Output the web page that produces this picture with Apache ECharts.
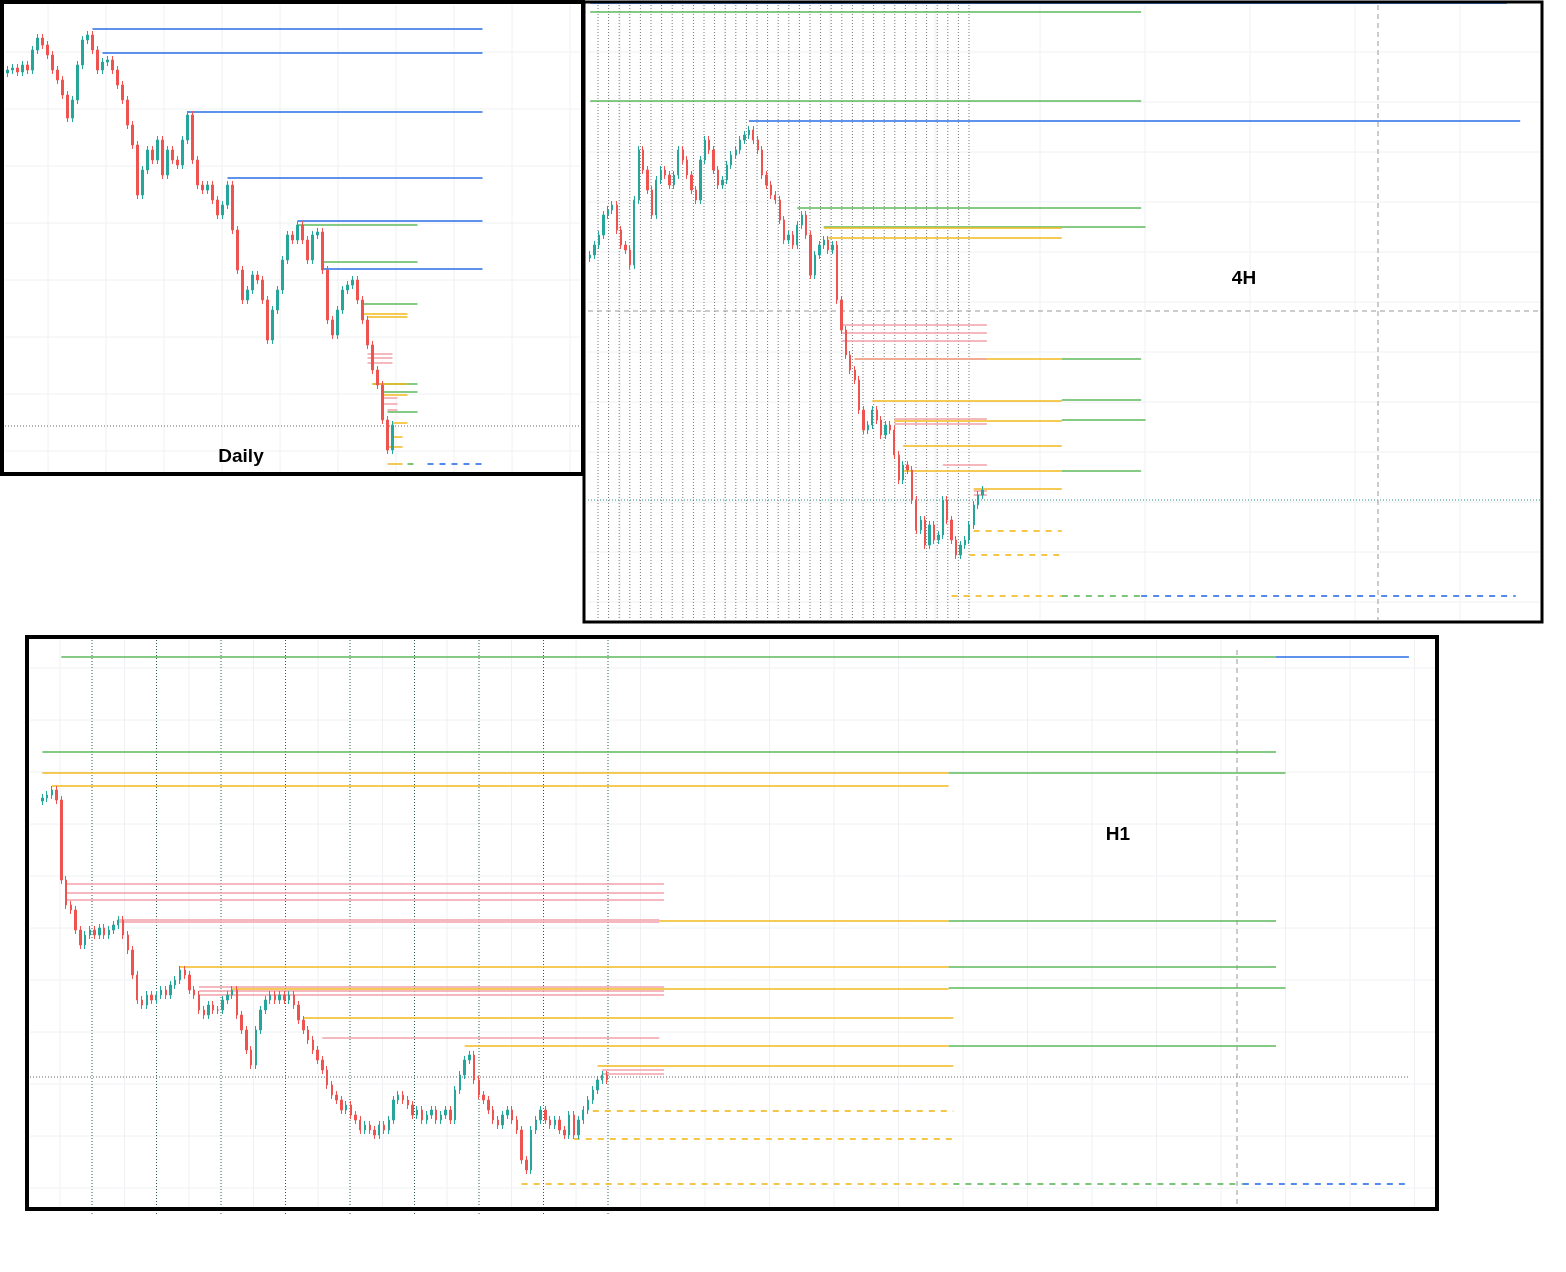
<!DOCTYPE html>
<html><head><meta charset="utf-8">
<script src="https://cdn.jsdelivr.net/npm/echarts@6/dist/echarts.min.js"></script>
<style>html,body{margin:0;background:#fff}#c{width:1566px;height:1272px}</style></head>
<body><div id="c"></div>
<script>
// Closing levels per candle (chart units: vertical chart position scale, higher value = lower price)
const dailyCloses=[70,68,72,65,70,50,38,45,55,70,80,95,118,100,65,40,35,50,70,62,60,70,85,100,125,145,195,170,150,160,140,175,150,160,165,140,115,160,185,190,185,200,215,205,185,230,270,300,290,275,280,300,340,310,290,260,235,240,225,240,260,235,232,270,320,335,310,290,285,280,300,320,345,370,385,420,450,425];
const h4Closes=[255,245,235,215,210,205,230,245,250,265,200,150,170,190,215,180,170,175,185,175,150,160,175,190,200,160,140,150,170,185,180,165,155,150,140,135,130,140,150,175,185,195,200,220,240,235,245,225,215,235,275,255,245,240,250,245,300,330,355,370,380,410,430,425,410,420,435,425,430,455,480,465,470,500,530,520,545,525,540,535,500,520,540,555,545,540,525,505,495,490];
const h1Closes=[798,795,790,800,880,905,910,930,945,935,930,935,928,935,930,925,920,935,950,975,1000,1005,995,1000,995,990,995,985,980,970,975,990,995,1010,1015,1005,1010,1010,1000,995,990,1015,1030,1050,1065,1030,1010,1000,995,1000,995,1000,995,1005,1020,1030,1040,1050,1060,1070,1085,1095,1100,1110,1105,1115,1120,1130,1125,1130,1135,1125,1130,1120,1100,1095,1100,1105,1115,1110,1120,1115,1110,1120,1115,1110,1120,1090,1075,1060,1055,1080,1095,1100,1110,1120,1125,1115,1110,1120,1130,1160,1170,1130,1120,1110,1120,1125,1120,1130,1135,1115,1135,1120,1110,1100,1090,1080,1075,1080];
// levels: [level, startBar, endBar, colour, dashed]
const dailyLevels=[
[29,17,95,'b',0],[53,19,95,'b',0],[112,36,95,'b',0],[178,44,95,'b',0],[221,58,95,'b',0],[269,63,95,'b',0],
[225,58,82,'g',0],[262,63,82,'g',0],[304,71,82,'g',0],[384,73,82,'g',0],[392,75,82,'g',0],[412,76,82,'g',0],
[314,71,80,'o',0],[317,72,80,'o',0],[384,73,80,'o',0],[395,75,80,'o',0],[423,77,80,'o',0],[437,77,79,'o',0],[447,76,79,'o',0],[464,76,79,'o',0],
[354,72,77,'p',0],[358,72,77,'p',0],[363,72,77,'p',0],[398,75,78,'p',0],[404,75,78,'p',0],[410,76,78,'p',0],
[464,80,82,'g',1],[464,84,95,'b',1]];
const h4Levels=[
[3,0,208,'b',0],[12,0,125,'g',0],[101,0,125,'g',0],[121,36,211,'b',0],[208,47,125,'g',0],[227,53,126,'g',0],
[228,53,107,'o',0],[238,54,107,'o',0],[325,57,90,'p',0],[333,57,90,'p',0],[341,57,90,'p',0],[359,60,107,'o',0],[359,60,90,'p',0],[359,107,125,'g',0],
[401,64,107,'o',0],[400,107,125,'g',0],[419,69,90,'p',0],[424,69,90,'p',0],[421,69,107,'o',0],[420,107,126,'g',0],[446,71,107,'o',0],
[465,80,90,'p',0],[471,71,107,'o',0],[471,107,125,'g',0],[489,87,107,'o',0],[491,87,90,'p',0],[495,87,90,'p',0],
[531,87,107,'o',1],[555,86,107,'o',1],[596,82,107,'o',1],[596,107,125,'g',1],[596,125,210,'b',1]];
const h1Levels=[
[657,4,260,'g',0],[657,260,288,'b',0],[752,0,260,'g',0],[773,0,191,'o',0],[773,191,262,'g',0],[786,2,191,'o',0],
[884,5,131,'p',0],[893,5,131,'p',0],[900,5,131,'p',0],[920,16,130,'p',0],[922,16,130,'p',0],[921,130,191,'o',0],[921,191,260,'g',0],
[967,29,191,'o',0],[967,191,260,'g',0],[987,33,131,'p',0],[991,33,131,'p',0],[995,33,131,'p',0],[989,40,191,'o',0],[988,191,262,'g',0],
[1018,55,192,'o',0],[1038,59,130,'p',0],[1046,89,191,'o',0],[1046,191,260,'g',0],[1066,117,192,'o',0],[1070,118,131,'p',0],[1074,118,131,'p',0],
[1111,116,192,'o',1],[1139,112,192,'o',1],[1184,101,192,'o',1],[1184,192,253,'g',1],[1184,253,288,'b',1]];
const COL={b:'#2a6ee6',g:'#5cb85c',o:'#f2b81c',p:'#f2a0a8'};

const panels=[
 {closes:dailyCloses,levels:dailyLevels,left:5,width:575,top:5,bottom:472,n:115},
 {closes:h4Closes,levels:h4Levels,left:588,width:952,top:1,bottom:620,n:216},
 {closes:h1Closes,levels:h1Levels,left:40,width:1395,top:640,bottom:1208,n:294}
];
const grid=[],xAxis=[],yAxis=[],series=[];
panels.forEach((p,k)=>{
 grid.push({left:p.left,top:p.top,width:p.width,height:p.bottom-p.top});
 xAxis.push({type:'category',gridIndex:k,data:Array.from({length:p.n},(_,i)=>i),show:false,boundaryGap:true});
 yAxis.push({type:'value',gridIndex:k,min:p.top,max:p.bottom,inverse:true,show:false});
 const cd=p.closes.map((c,i)=>{const o=i?p.closes[i-1]:c+3;return [o,c,Math.min(o,c)-4,Math.max(o,c)+4];});
 series.push({type:'candlestick',xAxisIndex:k,yAxisIndex:k,data:cd,barWidth:'40%',z:3,
  itemStyle:{color:'#ef5350',color0:'#26a69a',borderColor:'#ef5350',borderColor0:'#26a69a',borderWidth:1}});
 p.levels.forEach(l=>series.push({type:'line',xAxisIndex:k,yAxisIndex:k,symbol:'none',silent:true,z:2,
  data:[[l[1],l[0]],[l[2],l[0]]],lineStyle:{color:COL[l[3]],width:l[3]==='p'?1.5:1.6,type:l[4]?[6,6]:'solid'}}));
});
const g=[];
function ln(x1,y1,x2,y2,c,dash,w){g.push({type:'line',shape:{x1,y1,x2,y2},style:{stroke:c,lineDash:dash,lineWidth:w||1},z:-1});}
for(let x=48;x<580;x+=58)ln(x,5,x,472,'#eef0f3');
for(let y=52;y<472;y+=57)ln(5,y,580,y,'#eef0f3');
for(let x=620;x<1540;x+=105)ln(x,5,x,620,'#eef0f3');
for(let y=52;y<620;y+=50)ln(588,y,1540,y,'#eef0f3');
for(let x=60;x<1430;x+=64.5)ln(x,640,x,1208,'#eef0f3');
for(let y=668;y<1208;y+=52)ln(30,y,1435,y,'#eef0f3');
for(let x=598;x<=977;x+=10.6)ln(x,5,x,620,'#777',[1,2]);
for(let x=92;x<=612;x+=64.5)ln(x,640,x,1215,'#2c5e4a',[1,2]);
ln(5,426,580,426,'#666',[1,2]);ln(588,500,1540,500,'#2a8f86',[1,2]);ln(30,1077,1408,1077,'#666',[1,2]);
ln(588,311,1540,311,'#999',[5,4]);ln(1378,5,1378,620,'#999',[5,4]);ln(1237,650,1237,1208,'#999',[5,4]);
const option={animation:false,grid,xAxis,yAxis,series,graphic:[...g,
 {type:'rect',shape:{x:2,y:2,width:581,height:472},style:{fill:'none',stroke:'#000',lineWidth:4},z:10},
 {type:'rect',shape:{x:584,y:2,width:958,height:620},style:{fill:'none',stroke:'#000',lineWidth:3},z:10},
 {type:'rect',shape:{x:27,y:637,width:1410,height:572},style:{fill:'none',stroke:'#000',lineWidth:4},z:10},
 {type:'text',x:241,y:457,style:{text:'Daily',font:'bold 19px Arial',fill:'#000',align:'center',verticalAlign:'middle'},z:10},
 {type:'text',x:1244,y:279,style:{text:'4H',font:'bold 19px Arial',fill:'#000',align:'center',verticalAlign:'middle'},z:10},
 {type:'text',x:1118,y:835,style:{text:'H1',font:'bold 19px Arial',fill:'#000',align:'center',verticalAlign:'middle'},z:10}
]};
echarts.init(document.getElementById('c')).setOption(option);
</script></body></html>
